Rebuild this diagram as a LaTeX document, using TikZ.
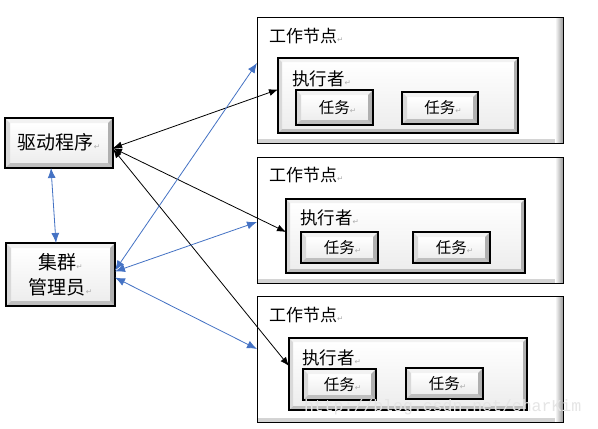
\documentclass[tikz,border=0pt]{standalone}
\usepackage{fontspec}
\newfontfamily\cjk{Noto Sans CJK SC}
\newfontfamily\mkfont{DejaVu Sans}
\newfontfamily\wmfont{Liberation Mono}
\usetikzlibrary{arrows.meta,calc}
\definecolor{linkblue}{HTML}{4472C4}
\newcommand{\retmark}{{\mkfont\fontsize{7.5}{7.5}\selectfont\color{gray!65}↵}}
\tikzset{
  every node/.style={inner sep=0pt, outer sep=0pt},
  bevel/.style={path picture={
    \coordinate (bsw) at (path picture bounding box.south west);
    \coordinate (bne) at (path picture bounding box.north east);
    \coordinate (bnw) at (bsw|-bne);
    \coordinate (bse) at (bne|-bsw);
    \shade[top color=white, bottom color=gray!14] ([shift={(#1,#1)}]bsw) rectangle ([shift={(-#1,-#1)}]bne);
    \fill[gray!10] (bnw) -- (bne) -- ([shift={(-#1,-#1)}]bne) -- ([shift={(#1,-#1)}]bnw) -- cycle;
    \fill[gray!30] (bnw) -- (bsw) -- ([shift={(#1,#1)}]bsw) -- ([shift={(#1,-#1)}]bnw) -- cycle;
    \fill[gray!50] (bsw) -- (bse) -- ([shift={(-#1,#1)}]bse) -- ([shift={(#1,#1)}]bsw) -- cycle;
    \fill[gray!62] (bse) -- (bne) -- ([shift={(-#1,-#1)}]bne) -- ([shift={(-#1,#1)}]bse) -- cycle;
  }},
  mainbox/.style={draw=black, line width=2pt, bevel=5pt, font=\cjk\fontsize{19}{25}\selectfont, align=center},
  workerbox/.style={draw=black, line width=0.9pt, fill=white, path picture={
    \shade[top color=white, bottom color=gray!35] ([yshift=4pt]path picture bounding box.south west) rectangle (path picture bounding box.south east);
    \shade[left color=white, right color=gray!80] ([xshift=-8pt]path picture bounding box.north east) rectangle (path picture bounding box.south east);
  }},
  execbox/.style={draw=black, line width=1.6pt, bevel=4pt},
  taskbox/.style={draw=black, line width=1.4pt, bevel=5pt, font=\cjk\fontsize{15.5}{17}\selectfont},
  wlabel/.style={anchor=west, font=\cjk\fontsize{17}{19}\selectfont},
  elabel/.style={anchor=west, font=\cjk\fontsize{17.5}{19}\selectfont},
  blk/.style={{Latex[length=9pt,width=7pt]}-{Latex[length=9pt,width=7pt]}, line width=0.8pt, black},
  blu/.style={{Latex[length=10pt,width=8pt]}-{Latex[length=10pt,width=8pt]}, line width=0.8pt, linkblue},
}
\begin{document}
\begin{tikzpicture}[x=1pt, y=-1pt]
\useasboundingbox (0,0) rectangle (598,429);
\fill[white] (0,0) rectangle (598,429);

% left boxes
\node[mainbox, minimum width=108pt, minimum height=50pt] (driver) at (59,143) {\raisebox{3pt}{驱动程序\retmark}};
\node[mainbox, minimum width=109pt, minimum height=63pt] (cm) at (60.5,274.5) {集群\retmark\\管理员\retmark};

% worker 1
\node[workerbox, minimum width=306pt, minimum height=126pt] (w1) at (410,80) {};
\node[wlabel] (w1lab) at (269,36) {工作节点\retmark};
\node[execbox, minimum width=240pt, minimum height=75pt] (e1) at (398,95.5) {};
\node[elabel] (e1lab) at (292,79) {执行者\retmark};
\node[taskbox, minimum width=77pt, minimum height=35pt] (t1a) at (334.5,107.5) {\hspace{6pt}任务\retmark};
\node[taskbox, minimum width=76pt, minimum height=32pt] (t1b) at (440,108) {\hspace{6pt}任务\retmark};

% worker 2
\node[workerbox, minimum width=306pt, minimum height=126pt] (w2) at (410,220) {};
\node[wlabel] (w2lab) at (269,175) {工作节点\retmark};
\node[execbox, minimum width=239pt, minimum height=74pt] (e2) at (405.5,236) {};
\node[elabel] (e2lab) at (300,218) {执行者\retmark};
\node[taskbox, minimum width=77pt, minimum height=31pt] (t2a) at (339.5,247.5) {\hspace{6pt}任务\retmark};
\node[taskbox, minimum width=77pt, minimum height=31pt] (t2b) at (451.5,247.5) {\hspace{6pt}任务\retmark};

% worker 3
\node[workerbox, minimum width=306pt, minimum height=126pt] (w3) at (410,359) {};
\node[wlabel] (w3lab) at (269,315) {工作节点\retmark};
\node[execbox, minimum width=238pt, minimum height=72pt] (e3) at (408,374) {};
\node[elabel] (e3lab) at (302,358) {执行者\retmark};
\node[taskbox, minimum width=73pt, minimum height=31pt] (t3a) at (339.5,384.5) {\hspace{6pt}任务\retmark};
\node[taskbox, minimum width=77pt, minimum height=31pt] (t3b) at (444.5,383.5) {\hspace{6pt}任务\retmark};

% black connectors
\draw[blk] ([yshift=-5pt]driver.east) -- ([yshift=6pt]e1.west);
\draw[blk] ([yshift=-5pt]driver.east) -- ([yshift=4pt]e2.west);
\draw[blk] ([yshift=-6pt]driver.east) -- ([yshift=8pt]e3.west);

% blue connectors
\draw[blu] ([xshift=-8pt]driver.south) -- ([xshift=-4.5pt]cm.north);
\draw[blu] ([yshift=4pt]cm.east) -- ([yshift=17pt]w1.west);
\draw[blu] ([yshift=3pt]cm.east) -- ([yshift=-2pt]w2.west);
\draw[blu] ([yshift=-3pt]cm.east) -- ([yshift=10pt]w3.west);

% watermark
\node[anchor=west, font=\wmfont\fontsize{16.5}{17}\selectfont, text=gray!20] (wm) at (304,407) {http://blog.csdn.net/charKim};
\end{tikzpicture}
\end{document}
